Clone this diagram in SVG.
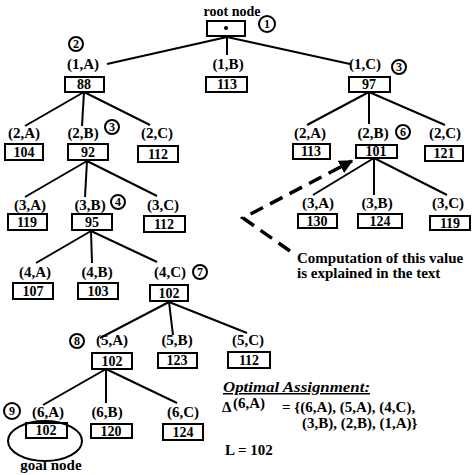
<svg xmlns="http://www.w3.org/2000/svg" width="474" height="475" viewBox="0 0 474 475" font-family="'Liberation Serif', 'Times New Roman', 'DejaVu Serif', serif">
<defs>
<style>
text{font-family:'Liberation Serif','Times New Roman','DejaVu Serif',serif;font-weight:bold;fill:#000}
.lb{font-size:15px;text-anchor:middle}
.nv{font-size:14px;text-anchor:middle}
.cn{font-size:12px;text-anchor:middle}
.bx{fill:#fff;stroke:#000;stroke-width:2}
.cc{fill:#fff;stroke:#000;stroke-width:2}
.ed{stroke:#000;stroke-width:2;fill:none}
.tx{font-size:15px}
</style>
<marker id="ah" viewBox="0 0 10 10" refX="9" refY="5" markerWidth="4" markerHeight="4" orient="auto" markerUnits="strokeWidth">
<path d="M0,0 L10,5 L0,10 z" fill="#000"/>
</marker>
</defs>
<rect width="474" height="475" fill="#fff"/>
<g id="connectors">
<line class="ed" x1="227" y1="37" x2="107" y2="64"/>
<line class="ed" x1="227" y1="37" x2="227" y2="55"/>
<line class="ed" x1="227" y1="37" x2="350" y2="64"/>
<line class="ed" x1="84" y1="92" x2="25" y2="126"/>
<line class="ed" x1="84" y1="92" x2="82" y2="126"/>
<line class="ed" x1="84" y1="92" x2="150" y2="125"/>
<line class="ed" x1="87" y1="161" x2="25" y2="197"/>
<line class="ed" x1="87" y1="161" x2="85" y2="197"/>
<line class="ed" x1="87" y1="161" x2="157" y2="196"/>
<line class="ed" x1="91" y1="231" x2="36" y2="263"/>
<line class="ed" x1="91" y1="231" x2="92" y2="263"/>
<line class="ed" x1="91" y1="231" x2="157" y2="262"/>
<line class="ed" x1="169" y1="302" x2="100" y2="338"/>
<line class="ed" x1="169" y1="302" x2="173" y2="335"/>
<line class="ed" x1="169" y1="302" x2="247" y2="333"/>
<line class="ed" x1="106" y1="369" x2="43" y2="405"/>
<line class="ed" x1="106" y1="369" x2="106" y2="403"/>
<line class="ed" x1="106" y1="369" x2="177" y2="403"/>
<line class="ed" x1="369" y1="92" x2="307" y2="125"/>
<line class="ed" x1="369" y1="92" x2="369" y2="124"/>
<line class="ed" x1="369" y1="92" x2="445" y2="125"/>
<line class="ed" x1="374" y1="158" x2="313" y2="195"/>
<line class="ed" x1="374" y1="158" x2="374" y2="195"/>
<line class="ed" x1="374" y1="158" x2="447" y2="195"/>
<polyline points="290,251 243,218 352,161" fill="none" stroke="#000" stroke-width="3.5" stroke-dasharray="14,8" marker-end="url(#ah)"/>
</g>
<g id="root">
<text x="232" y="16" style="font-size:14px;text-anchor:middle">root node</text>
<rect class="bx" x="207" y="21" width="38" height="15"/>
<circle cx="226" cy="28" r="2" fill="#000"/>
<circle class="cc" cx="267" cy="24" r="8"/><text class="cn" x="267" y="28">1</text>
</g>
<g id="n1A">
<circle class="cc" cx="76" cy="44" r="7"/><text class="cn" x="76" y="48">2</text>
<text class="lb" x="83" y="69">(1,A)</text>
<rect class="bx" x="65" y="77" width="39" height="15"/><text class="nv" x="84" y="89">88</text>
</g>
<g id="n1B">
<text class="lb" x="228" y="69">(1,B)</text>
<rect class="bx" x="206" y="77" width="41" height="15"/><text class="nv" x="227" y="89">113</text>
</g>
<g id="n1C">
<text class="lb" x="365" y="69">(1,C)</text>
<circle class="cc" cx="399" cy="67" r="7"/><text class="cn" x="399" y="71">3</text>
<rect class="bx" x="349" y="77" width="41" height="15"/><text class="nv" x="369" y="89">97</text>
</g>
<g id="nL2A">
<text class="lb" x="24" y="138">(2,A)</text>
<rect class="bx" x="5" y="144" width="38" height="16"/><text class="nv" x="24" y="157">104</text>
</g>
<g id="nL2B">
<text class="lb" x="83" y="138">(2,B)</text>
<circle class="cc" cx="112" cy="127" r="7"/><text class="cn" x="112" y="131">3</text>
<rect class="bx" x="68" y="144" width="40" height="16"/><text class="nv" x="88" y="157">92</text>
</g>
<g id="nL2C">
<text class="lb" x="157" y="138">(2,C)</text>
<rect class="bx" x="138" y="146" width="40" height="16"/><text class="nv" x="158" y="159">112</text>
</g>
<g id="nL3A">
<text class="lb" x="30" y="210">(3,A)</text>
<rect class="bx" x="8" y="214" width="39" height="16"/><text class="nv" x="27" y="227">119</text>
</g>
<g id="nL3B">
<text class="lb" x="90" y="210">(3,B)</text>
<circle class="cc" cx="118" cy="202" r="7"/><text class="cn" x="118" y="206">4</text>
<rect class="bx" x="72" y="214" width="40" height="16"/><text class="nv" x="92" y="227">95</text>
</g>
<g id="nL3C">
<text class="lb" x="163" y="210">(3,C)</text>
<rect class="bx" x="144" y="216" width="41" height="16"/><text class="nv" x="164" y="229">112</text>
</g>
<g id="n4A">
<text class="lb" x="35" y="277">(4,A)</text>
<rect class="bx" x="13" y="283" width="40" height="16"/><text class="nv" x="33" y="296">107</text>
</g>
<g id="n4B">
<text class="lb" x="97" y="277">(4,B)</text>
<rect class="bx" x="78" y="283" width="40" height="16"/><text class="nv" x="98" y="296">103</text>
</g>
<g id="n4C">
<text class="lb" x="170" y="277">(4,C)</text>
<circle class="cc" cx="200" cy="272" r="7"/><text class="cn" x="200" y="276">7</text>
<rect class="bx" x="150" y="285" width="38" height="16"/><text class="nv" x="169" y="298">102</text>
</g>
<g id="n5A">
<circle class="cc" cx="77" cy="341" r="7"/><text class="cn" x="77" y="345">8</text>
<text class="lb" x="112" y="345">(5,A)</text>
<rect class="bx" x="92" y="353" width="40" height="16"/><text class="nv" x="112" y="366">102</text>
</g>
<g id="n5B">
<text class="lb" x="177" y="345">(5,B)</text>
<rect class="bx" x="158" y="353" width="39" height="15"/><text class="nv" x="177" y="365">123</text>
</g>
<g id="n5C">
<text class="lb" x="248" y="345">(5,C)</text>
<rect class="bx" x="228" y="352" width="42" height="16"/><text class="nv" x="249" y="365">112</text>
</g>
<g id="n6A">
<circle class="cc" cx="12" cy="411" r="8"/><text class="cn" x="12" y="415">9</text>
<text class="lb" x="48" y="417">(6,A)</text>
<rect class="bx" x="26" y="423" width="41" height="15"/><text class="nv" x="46" y="435">102</text>
<ellipse cx="45" cy="441" rx="37" ry="20" fill="none" stroke="#000" stroke-width="2"/>
<text x="51" y="470" style="font-size:15px;text-anchor:middle">goal node</text>
</g>
<g id="n6B">
<text class="lb" x="107" y="417">(6,B)</text>
<rect class="bx" x="91" y="424" width="41" height="14"/><text class="nv" x="111" y="436">120</text>
</g>
<g id="n6C">
<text class="lb" x="183" y="417">(6,C)</text>
<rect class="bx" x="163" y="424" width="40" height="16"/><text class="nv" x="183" y="437">124</text>
</g>
<g id="nR2A">
<text class="lb" x="310" y="138">(2,A)</text>
<rect class="bx" x="293" y="144" width="37" height="15"/><text class="nv" x="311" y="156">113</text>
</g>
<g id="nR2B">
<text class="lb" x="373" y="138">(2,B)</text>
<circle class="cc" cx="403" cy="132" r="7"/><text class="cn" x="403" y="136">6</text>
<rect class="bx" x="356" y="145" width="41" height="13"/><text class="nv" x="376" y="156">101</text>
</g>
<g id="nR2C">
<text class="lb" x="445" y="138">(2,C)</text>
<rect class="bx" x="425" y="146" width="38" height="15"/><text class="nv" x="444" y="158">121</text>
</g>
<g id="nR3A">
<text class="lb" x="318" y="208">(3,A)</text>
<rect class="bx" x="298" y="214" width="39" height="14"/><text class="nv" x="317" y="226">130</text>
</g>
<g id="nR3B">
<text class="lb" x="377" y="208">(3,B)</text>
<rect class="bx" x="358" y="214" width="44" height="14"/><text class="nv" x="380" y="226">124</text>
</g>
<g id="nR3C">
<text class="lb" x="448" y="208">(3,C)</text>
<rect class="bx" x="430" y="216" width="40" height="14"/><text class="nv" x="450" y="228">119</text>
</g>
<g id="notes">
<text class="tx" x="297" y="263">Computation of this value</text>
<text class="tx" x="297" y="278">is explained in the text</text>
<text class="tx" x="223" y="392" style="font-style:italic;text-decoration:underline" textLength="147" lengthAdjust="spacingAndGlyphs">Optimal Assignment:</text>
<text class="tx" x="222" y="412">Δ</text>
<text class="tx" x="233" y="408">(6,A)</text>
<text class="tx" x="282" y="412">= {(6,A), (5,A), (4,C),</text>
<text class="tx" x="302" y="428">(3,B), (2,B), (1,A)}</text>
<text class="tx" x="225" y="455">L = 102</text>
</g>
</svg>
